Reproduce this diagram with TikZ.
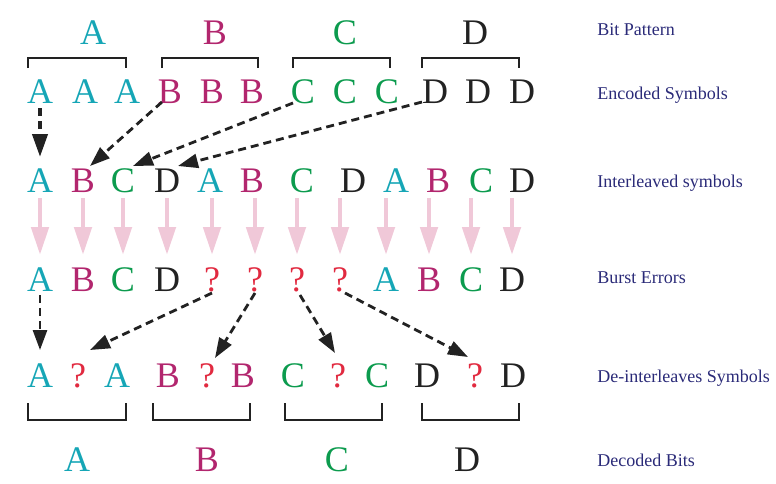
\documentclass[tikz,border=0pt]{standalone}
\usepackage{fontspec}
\setmainfont{Liberation Serif}
\usepackage{xcolor}
\usepackage{tikz}
\usetikzlibrary{arrows.meta}
\usetikzlibrary{calc}
\definecolor{cyanA}{RGB}{22,166,182}
\definecolor{magB}{RGB}{178,38,110}
\definecolor{vertC}{RGB}{12,155,78}
\definecolor{noirD}{RGB}{34,34,34}
\definecolor{rougeQ}{RGB}{225,42,64}
\definecolor{rose}{RGB}{240,200,216}
\definecolor{bleuT}{RGB}{42,42,120}

\tikzset{
  sym/.style={font=\fontsize{18}{18}\selectfont, inner sep=0pt, text height=12pt, text depth=0pt},
  lbl/.style={font=\fontsize{9}{9}\selectfont, text=bleuT, anchor=base west, inner sep=0pt},
  crochet/.style={line width=1.3pt, noirD},
  fleche/.style={noirD, line width=1.4pt, dash pattern=on 4pt off 2.5pt, -{Triangle[length=10pt,width=7pt]}},
  rosefl/.style={rose, line width=2.4pt, -{Triangle[length=14pt,width=8.5pt]}}
}

\begin{document}
\begin{tikzpicture}[x=0.5pt, y=-0.5pt]
        % Cadre de l'image
        \useasboundingbox (0,0) rectangle (776,483);

        % Motif de bits
        \foreach \x/\l/\c [count=\i] in {93/A/cyanA, 215/B/magB, 345/C/vertC, 475/D/noirD}
          \node[sym, text=\c] (t\i) at (\x,32) {\l};
        \foreach \a/\b in {28/126, 162/258, 293/390, 422/519}
          \draw[crochet] (\a,68) -- (\a,58) -- (\b,58) -- (\b,68);

        % Symboles codes
        \foreach \x/\l/\c [count=\i] in {40/A/cyanA, 85/A/cyanA, 127/A/cyanA, 170/B/magB, 212/B/magB, 252/B/magB,
            303/C/vertC, 345/C/vertC, 387/C/vertC, 435/D/noirD, 478/D/noirD, 522/D/noirD}
          \node[sym, text=\c] (e\i) at (\x,91) {\l};

        % Symboles entrelaces
        \foreach \x/\l/\c [count=\i] in {40/A/cyanA, 83/B/magB, 123/C/vertC, 167/D/noirD, 210/A/cyanA, 252/B/magB,
            302/C/vertC, 353/D/noirD, 396/A/cyanA, 438/B/magB, 481/C/vertC, 522/D/noirD}
          \node[sym, text=\c] (i\i) at (\x,180) {\l};

        % Erreurs en rafale
        \foreach \x/\l/\c [count=\i] in {40/A/cyanA, 83/B/magB, 123/C/vertC, 167/D/noirD, 212/?/rougeQ, 255/?/rougeQ,
            297/?/rougeQ, 340/?/rougeQ, 386/A/cyanA, 429/B/magB, 471/C/vertC, 512/D/noirD}
          \node[sym, text=\c] (b\i) at (\x,279) {\l};

        % Symboles desentrelaces
        \foreach \x/\l/\c [count=\i] in {40/A/cyanA, 78/?/rougeQ, 117/A/cyanA, 168/B/magB, 207/?/rougeQ, 243/B/magB,
            293/C/vertC, 338/?/rougeQ, 377/C/vertC, 427/D/noirD, 475/?/rougeQ, 513/D/noirD}
          \node[sym, text=\c] (d\i) at (\x,375) {\l};
        \foreach \a/\b in {28/126, 153/250, 285/382, 422/519}
          \draw[crochet] (\a,403) -- (\a,420) -- (\b,420) -- (\b,403);

        % Bits decodes
        \foreach \x/\l/\c [count=\i] in {77/A/cyanA, 207/B/magB, 337/C/vertC, 467/D/noirD}
          \node[sym, text=\c] (o\i) at (\x,459) {\l};

        % Fleches roses
        \foreach \i in {1,...,12}
          \draw[rosefl] ([yshift=-9pt]b\i.center |- i\i.center) -- ([yshift=12pt]b\i.center);

        % Entrelacement
        \draw[fleche, line width=2pt, -{Triangle[length=11.5pt,width=7.5pt]}]
          ([shift={(0,17)}]e1.center) -- ([shift={(0,-23)}]i1.center);
        \draw[fleche] ([shift={(-8,11)}]e4.center) -- ([shift={(7,-14)}]i2.center);
        \draw[fleche] ([shift={(-10,12)}]e7.center) -- ([shift={(10,-14)}]i3.center);
        \draw[fleche] ([shift={(-13,11)}]e10.center) -- ([shift={(11,-14)}]i4.center);

        % Desentrelacement
        \draw[fleche] ([shift={(0,16)}]b1.center) -- ([shift={(0,-25)}]d1.center);
        \draw[fleche] ([shift={(0,14)}]b5.center) -- ([shift={(12,-25)}]d2.center);
        \draw[fleche] ([shift={(0,14)}]b6.center) -- ([shift={(8,-17)}]d5.center);
        \draw[fleche] ([shift={(3,16)}]b7.center) -- ([shift={(-3,-22)}]d8.center);
        \draw[fleche] ([shift={(5,14)}]b8.center) -- ([shift={(-7,-18)}]d11.center);

        % Legendes
        \node[lbl] (lab1) at (597,35) {Bit Pattern};
        \node[lbl] (lab2) at (597,99) {Encoded Symbols};
        \node[lbl] (lab3) at (597,187) {Interleaved symbols};
        \node[lbl] (lab4) at (597,283) {Burst Errors};
        \node[lbl] (lab5) at (597,382) {De-interleaves Symbols};
        \node[lbl] (lab6) at (597,466) {Decoded Bits};
    \end{tikzpicture}
\end{document}
